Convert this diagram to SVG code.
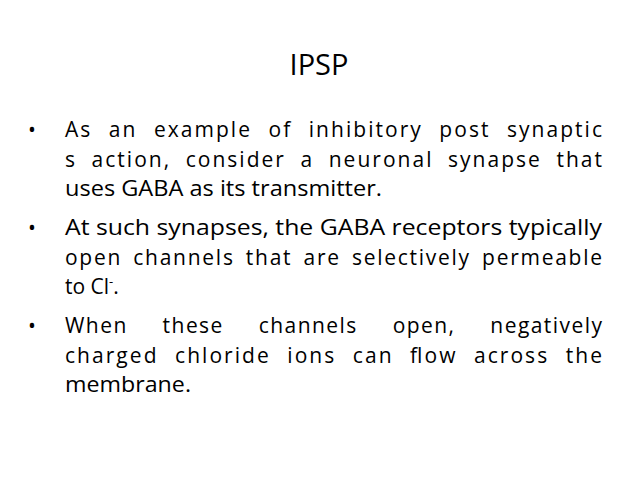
<svg xmlns="http://www.w3.org/2000/svg" width="638" height="478" viewBox="0 0 638 478">
<style>
text{font-family:"Open Sans","Liberation Sans",sans-serif;fill:#000}
.b{font-size:21px}
.t{font-size:29px}
</style>
<rect width="638" height="478" fill="#fff"/>
<g id="title"><text class="t" x="319" y="75" text-anchor="middle">IPSP</text></g>
<g id="bullets">
<text class="b" x="28" y="137">•</text>
<text class="b" x="65" y="137" word-spacing="9" textLength="537" lengthAdjust="spacing">As an example of inhibitory post synaptic</text>
<text class="b" x="65" y="167" word-spacing="7" textLength="537" lengthAdjust="spacing">s action, consider a neuronal synapse that</text>
<text class="b" x="65" y="196" textLength="317" lengthAdjust="spacingAndGlyphs">uses GABA as its transmitter.</text>
<text class="b" x="28" y="235">•</text>
<text class="b" x="65" y="235" textLength="537" lengthAdjust="spacingAndGlyphs">At such synapses, the GABA receptors typically</text>
<text class="b" x="65" y="265" word-spacing="4" textLength="537" lengthAdjust="spacing">open channels that are selectively permeable</text>
<text class="b" x="65" y="294">to Cl<tspan font-size="13" dy="-8">-</tspan><tspan dy="8">.</tspan></text>
<text class="b" x="28" y="333">•</text>
<text class="b" x="65" y="333" word-spacing="28" textLength="537" lengthAdjust="spacing">When these channels open, negatively</text>
<text class="b" x="65" y="363" word-spacing="9" textLength="537" lengthAdjust="spacing">charged chloride ions can flow across the</text>
<text class="b" x="65" y="392" textLength="126" lengthAdjust="spacingAndGlyphs">membrane.</text>
</g>
</svg>
